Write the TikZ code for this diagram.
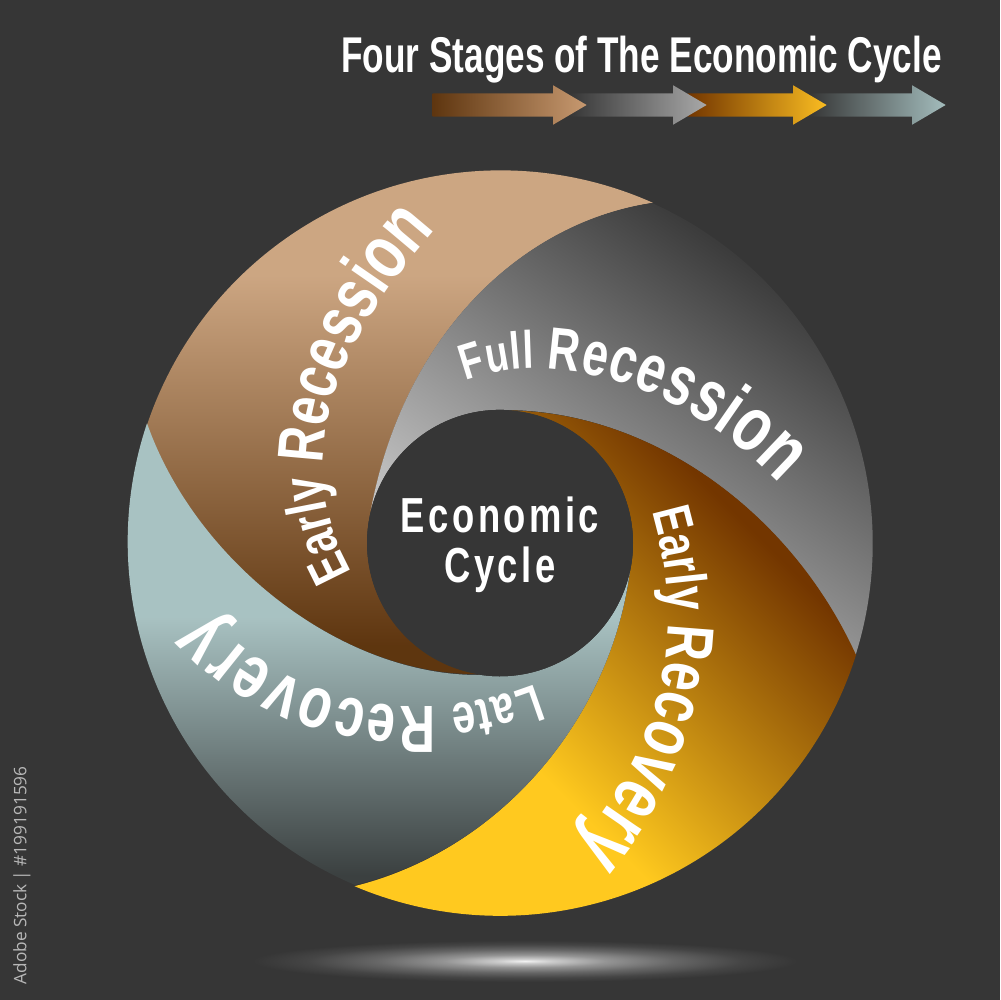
\documentclass[tikz,border=0pt]{standalone}
\usepackage{fontspec}
\usetikzlibrary{shapes.arrows, decorations.text}
\setmainfont[FakeStretch=0.74]{Liberation Sans}
\newfontfamily\titlefont[FakeStretch=0.7]{Liberation Sans}
\newfontfamily\hubfont[FakeStretch=0.74,LetterSpace=7]{Liberation Sans}
\newfontfamily\idfont{Open Sans}
\newcommand{\fz}[1]{\color{white}\bfseries\fontsize{#1}{#1}\selectfont}
\definecolor{bgdark}{HTML}{363636}
\definecolor{tandark}{rgb}{0.37,0.21,0.06}
\definecolor{tanlight}{rgb}{0.78,0.60,0.44}
\definecolor{goldstart}{rgb}{0.45,0.21,0}
\definecolor{goldend}{rgb}{0.98,0.74,0.13}
\definecolor{tealend}{rgb}{0.64,0.74,0.74}
\pgfdeclareverticalshading{tanblade}{100bp}{
  rgb(0bp)=(0.37,0.21,0.06); rgb(28bp)=(0.37,0.21,0.06); rgb(64bp)=(0.80,0.65,0.51); rgb(100bp)=(0.80,0.65,0.51)}
\pgfdeclareverticalshading{tealblade}{100bp}{
  rgb(0bp)=(0.23,0.25,0.25); rgb(26bp)=(0.23,0.25,0.25); rgb(54bp)=(0.66,0.76,0.76); rgb(100bp)=(0.66,0.76,0.76)}
\pgfdeclarehorizontalshading{grayblade}{100bp}{
  rgb(0bp)=(0.82,0.82,0.82); rgb(25bp)=(0.82,0.82,0.82); rgb(72bp)=(0.21,0.21,0.21); rgb(100bp)=(0.21,0.21,0.21)}
\pgfdeclarehorizontalshading{goldblade}{100bp}{
  rgb(0bp)=(1,0.79,0.12); rgb(38bp)=(1,0.79,0.12); rgb(70bp)=(0.45,0.21,0); rgb(100bp)=(0.45,0.21,0)}
\pgfdeclareradialshading{glowspot}{\pgfpoint{0bp}{0bp}}{
  rgb(0bp)=(0.95,0.95,0.95); rgb(2bp)=(0.8,0.8,0.8); rgb(6bp)=(0.58,0.58,0.58); rgb(11bp)=(0.4,0.4,0.4); rgb(16bp)=(0.27,0.27,0.27); rgb(20bp)=(0.212,0.212,0.212); rgb(50bp)=(0.212,0.212,0.212)}
\tikzset{
  stagearrow/.style={single arrow, anchor=tip, inner sep=1.1mm, minimum width=3.8mm,
    single arrow head extend=0.8mm, single arrow tip angle=61},
  bladetext/.style={decorate, decoration={text along path, text align={fit to path}, text={#1}}}
}
\begin{document}
\begin{tikzpicture}[x=0.1mm, y=0.1mm]
\fill[bgdark] (0,0) rectangle (1000,1000);
\useasboundingbox (0,0) rectangle (1000,1000);
\path[shading=glowspot] (525,39) ellipse [x radius=340, y radius=26];
\coordinate (p1) at (147,575);
\coordinate (p2) at (652,797);
\coordinate (p3) at (856,345);
\coordinate (p4) at (355,115);
\coordinate (tip1) at (371,490);
\coordinate (tip2) at (509,590);
\coordinate (tip3) at (630,428);
\coordinate (tip4) at (480,325);
\path[shading=tanblade] (p1) arc[start angle=161.5, end angle=65.9, radius=373] .. controls (525,778) and (405,670) .. (tip1)
  arc[start angle=165.8, end angle=261.4, radius=133] .. controls (340,324) and (195,440) .. (p1);
\path[shading=grayblade, shading angle=55] (p2) arc[start angle=65.9, end angle=-17.5, radius=373] .. controls (790,490) and (650,588) .. (tip2)
  arc[start angle=86, end angle=165.8, radius=133] .. controls (405,670) and (525,778) .. (p2);
\path[shading=goldblade, shading angle=45] (p3) arc[start angle=-17.5, end angle=-113, radius=373] .. controls (500,150) and (610,280) .. (tip3)
  arc[start angle=-12.5, end angle=86, radius=133] .. controls (650,588) and (790,490) .. (p3);
\path[shading=tealblade] (p4) arc[start angle=247, end angle=161.5, radius=373] .. controls (195,440) and (340,324) .. (tip4)
  arc[start angle=261.4, end angle=347.5, radius=133] .. controls (610,280) and (500,150) .. (p4);
\node[circle, fill=bgdark, minimum size=26.6mm, inner sep=0pt] (hub) at (500,457) {};
\node[align=center, text=white, font=\hubfont\bfseries\fontsize{14}{14.2}\selectfont] (hublabel) at (500,455) {Economic\\ Cycle};
\path[bladetext={|\fz{15.5}|E|\fz{15.8}|a|\fz{16}|r|\fz{16.3}|l|\fz{16.6}|y |\fz{18.5}|R|\fz{19}|e|\fz{19.5}|c|\fz{20}|e|\fz{20.5}|s|\fz{21}|s|\fz{21.5}|i|\fz{22}|o|\fz{22.5}|n}]
  (352,428) .. controls (300,520) and (313,630) .. (432,767);
\path[bladetext={|\fz{14.3}|F|\fz{14.5}|u|\fz{14.8}|l|\fz{15}|l |\fz{17}|R|\fz{17.8}|e|\fz{18.6}|c|\fz{19.4}|e|\fz{20.2}|s|\fz{21}|s|\fz{21.6}|i|\fz{22.2}|o|\fz{23}|n}]
  (466,619) .. controls (560,655) and (690,610) .. (780,516);
\path[bladetext={|\fz{15.2}|E|\fz{15.6}|a|\fz{16}|r|\fz{16.4}|l|\fz{16.8}|y |\fz{19}|R|\fz{19.7}|e|\fz{20.4}|c|\fz{21}|o|\fz{21.6}|v|\fz{22.2}|e|\fz{22.8}|r|\fz{23.4}|y}]
  (652,488) .. controls (680,390) and (680,280) .. (578,155);
\path[bladetext={|\fz{15}|L|\fz{15.3}|a|\fz{15.6}|t|\fz{16}|e |\fz{19}|R|\fz{19.6}|e|\fz{20.2}|c|\fz{20.8}|o|\fz{21.4}|v|\fz{22}|e|\fz{22.6}|r|\fz{23.2}|y}]
  (535,316) .. controls (430,275) and (300,285) .. (205,388);
\node[stagearrow, minimum height=13.7mm, left color=bgdark, right color=tealend] (arrow4) at (947,895) {};
\node[stagearrow, minimum height=13.9mm, left color=goldstart, right color=goldend] (arrow3) at (828,895) {};
\node[stagearrow, minimum height=13.8mm, left color=bgdark, right color=white!66!black] (arrow2) at (708,895) {};
\node[stagearrow, minimum height=15.4mm, left color=tandark, right color=tanlight] (arrow1) at (588,895) {};
\node[text=white, anchor=base, font=\titlefont\bfseries\fontsize{14.3}{14.3}\selectfont] (stagetitle) at (641.5,927) {Four Stages of The Economic Cycle};
\node[text=white!72!black, rotate=90, anchor=west, inner sep=0pt, font=\idfont\fontsize{4.9}{4.9}\selectfont] (stockid) at (22,15) {Adobe Stock | \#199191596};
\end{tikzpicture}
\end{document}
